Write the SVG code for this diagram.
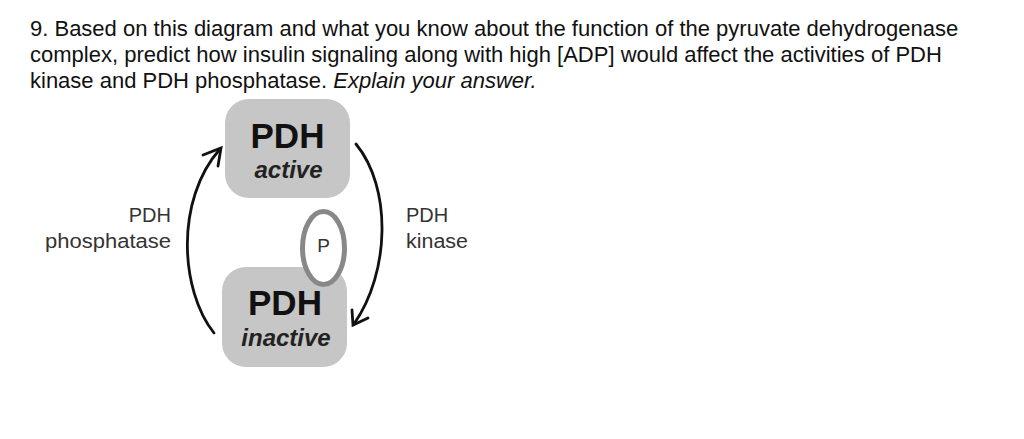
<svg xmlns="http://www.w3.org/2000/svg" width="1024" height="439" viewBox="0 0 1024 439">
<style>
.q{font-family:"Liberation Sans",Arial,sans-serif;font-size:22px;fill:#111}
.lbl{font-family:"Liberation Sans",Arial,sans-serif;font-size:20px;fill:#333}
.big{font-family:"Liberation Sans",Arial,sans-serif;font-size:35px;font-weight:bold;fill:#111;text-anchor:middle}
.sub{font-family:"Liberation Sans",Arial,sans-serif;font-size:24px;font-weight:bold;font-style:italic;fill:#222;text-anchor:middle}
.box{fill:#c6c6c6}
.arc{fill:none;stroke:#111;stroke-width:2.8;stroke-linecap:round}
.head{fill:none;stroke:#111;stroke-width:2.8;stroke-linecap:round;stroke-linejoin:miter}
</style>
<rect width="1024" height="439" fill="#fff"/>
<g id="question">
<text class="q" x="30" y="36">9. Based on this diagram and what you know about the function of the pyruvate dehydrogenase</text>
<text class="q" x="30" y="62">complex, predict how insulin signaling along with high [ADP] would affect the activities of PDH</text>
<text class="q" x="30" y="88">kinase and PDH phosphatase. <tspan font-style="italic">Explain your answer.</tspan></text>
</g>
<g id="pdh-active">
<rect class="box" x="225" y="99" width="125" height="99" rx="24"/>
<text class="big" x="287.5" y="148" textLength="74" lengthAdjust="spacingAndGlyphs">PDH</text>
<text class="sub" x="288.5" y="178">active</text>
</g>
<g id="pdh-inactive">
<rect class="box" x="222" y="267" width="125" height="100" rx="24"/>
<text class="big" x="285" y="315" textLength="74" lengthAdjust="spacingAndGlyphs">PDH</text>
<text class="sub" x="286" y="346">inactive</text>
</g>
<g id="phosphate">
<ellipse cx="323.5" cy="248" rx="21" ry="36.5" fill="#fff" stroke="#8a8787" stroke-width="5"/>
<text x="323.5" y="252" font-family="Liberation Sans,Arial,sans-serif" font-size="19" fill="#333" text-anchor="middle">P</text>
</g>
<g id="labels">
<text class="lbl" x="171" y="222" text-anchor="end">PDH</text>
<text class="lbl" x="171" y="248" text-anchor="end" textLength="126" lengthAdjust="spacingAndGlyphs">phosphatase</text>
<text class="lbl" x="406" y="222">PDH</text>
<text class="lbl" x="406" y="248" textLength="62" lengthAdjust="spacingAndGlyphs">kinase</text>
</g>
<g id="connectors">
<path class="arc" d="M214,333 C180,290 175,200 220,149"/>
<path class="head" d="M203,155 L221,148 L218,166"/>
<path class="arc" d="M356,144 C392,188 390,272 354,324"/>
<path class="head" d="M352,310 L353,325 L368,318"/>
</g>
</svg>
